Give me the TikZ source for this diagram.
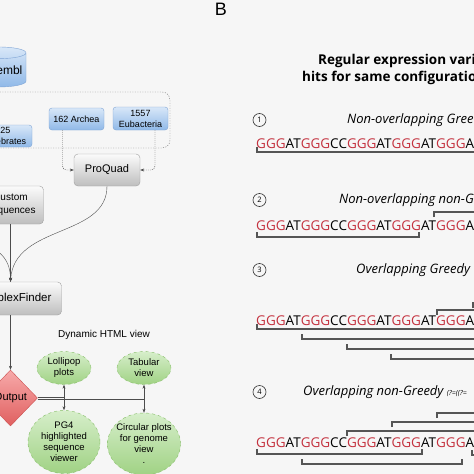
\documentclass[tikz,border=0pt]{standalone}
\usepackage{fontspec}
\setmainfont{Liberation Sans}
\newfontfamily\seqfont{Open Sans}
\usepackage{tikz}
\usetikzlibrary{shapes.geometric, arrows.meta, positioning}
\usepackage{xcolor}
\definecolor{bgpanel}{HTML}{F6F6F6}
\definecolor{bluetop}{HTML}{D8E7F8}
\definecolor{bluebot}{HTML}{90B9E8}
\definecolor{blueline}{HTML}{7FA4D4}
\definecolor{graytop}{HTML}{FBFBFB}
\definecolor{graybot}{HTML}{BEBEBE}
\definecolor{grayline}{HTML}{A0A0A0}
\definecolor{greentop}{HTML}{D6EECA}
\definecolor{greenbot}{HTML}{A0D284}
\definecolor{greenline}{HTML}{86BE68}
\definecolor{redtop}{HTML}{F7AAAA}
\definecolor{redbot}{HTML}{E05F5F}
\definecolor{redline}{HTML}{CC5050}
\definecolor{seqred}{HTML}{C4323F}
\definecolor{brkline}{HTML}{555555}
\newcommand{\Grun}{\textcolor{seqred}{GGG}}
\newcommand{\seqline}{\Grun AT\Grun CC\Grun AT\Grun AT\Grun A\Grun}
\tikzset{
    dbbox/.style={draw=blueline, top color=bluetop, bottom color=bluebot, rounded corners=3pt, align=center, font=\fontsize{9}{11}\selectfont, inner sep=1pt},
    toolbox/.style={draw=grayline, top color=graytop, bottom color=graybot, rounded corners=4pt, align=center, font=\fontsize{11}{13}\selectfont, inner sep=1pt},
    viewblob/.style={ellipse, draw=greenline, dashed, top color=greentop, bottom color=greenbot, align=center, font=\fontsize{9.5}{11}\selectfont, inner sep=-6pt},
    outbox/.style={diamond, draw=redline, top color=redtop, bottom color=redbot, font=\fontsize{11}{13}\selectfont, inner sep=0pt},
    arr/.style={-{Stealth[length=4pt, width=3pt]}, draw=black!70},
    dotarr/.style={arr, dash pattern=on 1pt off 1pt, rounded corners=4pt},
    duoarr/.style={{Stealth[length=4pt, width=3pt]}-{Stealth[length=4pt, width=3pt]}, draw=black!70},
    dotframe/.style={draw=gray!80!black, dash pattern=on 1pt off 1.5pt, rounded corners=8pt},
    num/.style={circle, draw=black!80, line width=0.6pt, inner sep=0pt, minimum size=13pt, font=\seqfont\fontsize{7.5}{8}\selectfont},
    head/.style={anchor=west, inner sep=0pt, font=\seqfont\itshape\fontsize{13}{15}\selectfont},
    seq/.style={anchor=west, inner sep=0pt, font=\seqfont\fontsize{13.5}{15}\selectfont},
    brk/.style={draw=brkline, line width=1.2pt}
}
\begin{document}
\begin{tikzpicture}[x=1pt, y=-1pt]
\useasboundingbox (0,0) rectangle (474,474);
\fill[bgpanel] (0,0) rectangle (474,474);
\clip (0,0) rectangle (474,474);

\node[font=\fontsize{18}{20}\selectfont] (panelb) at (221,9) {B};

\node[cylinder, shape border rotate=90, aspect=0.25, draw=blueline, top color=bluetop, bottom color=bluebot, minimum width=54pt, minimum height=40pt, inner sep=0pt, font=\fontsize{12}{14}\selectfont] (ensembl) at (-1,70) {Ensembl};
\draw[dotframe] (-20,92) rectangle (170,148);
\node[dbbox, minimum width=58pt, minimum height=22pt] (vert) at (3,136) {225\\Vertebrates};
\node[dbbox, minimum width=55pt, minimum height=22pt] (archea) at (76.5,119) {162 Archea};
\node[dbbox, minimum width=55pt, minimum height=23pt] (eubac) at (140.5,118.5) {1557\\Eubacteria};
\node[toolbox, minimum width=66pt, minimum height=32pt] (proquad) at (107,170) {ProQuad};
\node[toolbox, minimum width=66pt, minimum height=38pt, font=\fontsize{10}{13}\selectfont] (custom) at (10.5,205) {Custom\\Sequences};
\node[toolbox, minimum width=102pt, minimum height=33pt, font=\fontsize{11.5}{13}\selectfont] (finder) at (10.5,298.5) {QuadplexFinder};
\node[outbox, minimum width=54pt, minimum height=56pt] (output) at (10.5,398) {Output};
\coordinate (ensfeed) at (-40,238);

\draw[dotarr] ([xshift=-14pt]archea.south) |- (proquad.west);
\draw[dotarr] ([xshift=14.5pt]eubac.south) |- (proquad.east);
\draw[arr] (proquad.south) .. controls (107,238) and (14,224) .. (finder.north);
\draw[arr] (ensfeed) .. controls (-4,244) and (10.5,256) .. (finder.north);
\draw[arr] (custom) -- (finder);
\draw[arr] (finder) -- (output);

\node[font=\fontsize{10}{12}\selectfont] (dynlabel) at (104,335) {Dynamic HTML view};
\node[viewblob, minimum width=54pt, minimum height=33pt] (lolli) at (64,368) {Lollipop\\plots};
\node[viewblob, minimum width=54pt, minimum height=33pt] (tabular) at (144,368) {Tabular\\view};
\node[viewblob, minimum width=72pt, minimum height=63pt] (pgview) at (64,442) {PG4\\highlighted\\sequence\\viewer};
\node[viewblob, minimum width=73pt, minimum height=62pt] (circplot) at (144,444) {Circular plots\\for genome\\view\\.};
\coordinate (lolljoin) at (64,397);
\coordinate (tabjoin) at (144,399);

\draw[draw=black!70] ([yshift=1pt]output.east) -- (lolljoin);
\draw[draw=black!70] ([yshift=-1pt]output.east) -- (tabjoin);
\draw[duoarr] (lolli) -- (pgview);
\draw[duoarr] (tabular) -- (circplot);

\node[anchor=west, inner sep=0pt, font=\seqfont\bfseries\fontsize{13.5}{16}\selectfont] (title1) at (318,61) {Regular expression variants};
\node[anchor=west, inner sep=0pt, font=\seqfont\bfseries\fontsize{13.5}{16}\selectfont] (title2) at (302,78) {hits for same configuration};

\foreach \k/\y in {1/120, 2/200, 3/270, 4/392}
    \node[num] (num\k) at (259.5,\y) {\k};
\node[head] (head1) at (347,120) {Non-overlapping Greedy};
\node[head] (head2) at (339,200) {Non-overlapping non-Greedy};
\node[head] (head3) at (356,270) {Overlapping Greedy};
\node[head] (head4) at (303,392) {Overlapping non-Greedy {\fontsize{7}{8}\selectfont(?=((?=}};

\foreach \k/\y in {1/144, 2/226, 3/321, 4/443}
    \node[seq] (seq\k) at (256,\y) {\seqline};

\foreach \xa/\y in {257/152, 257/329, 302/339, 347/349, 391/359, 472/455}
    \draw[brk] (\xa,\y-5) |- (480,\y);
\foreach \xa/\y in {434/212, 473/303, 437/310, 437/413, 392/422, 347/431}
    \draw[brk] (\xa,\y+5) |- (480,\y);
\foreach \xa/\xb/\y in {257/419/237, 257/422/454, 302/462/464}
    \draw[brk] (\xa,\y-5) |- (\xb,\y) -- (\xb,\y-5);
\end{tikzpicture}
\end{document}
